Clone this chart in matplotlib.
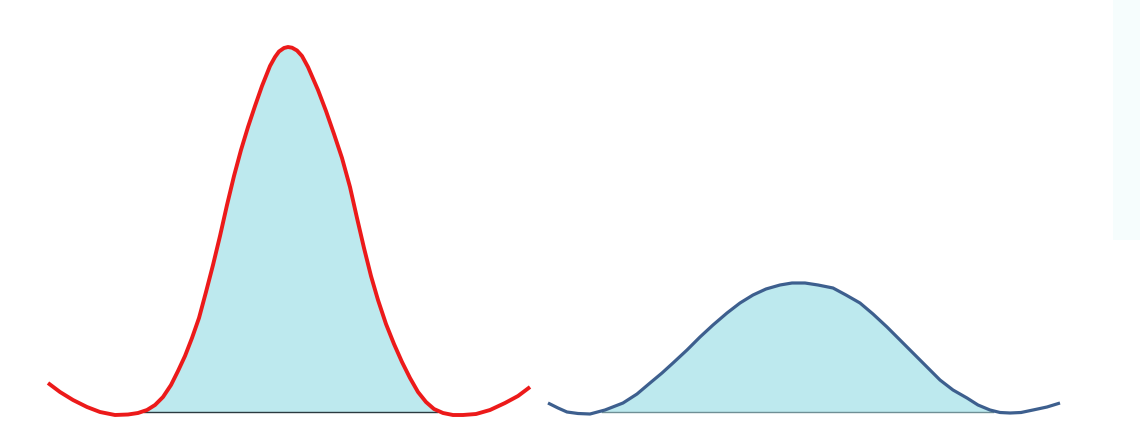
import matplotlib
matplotlib.use("Agg")
import matplotlib.pyplot as plt
import numpy as np
from matplotlib.patches import Rectangle

# Curve samples (x, height in image units, y grows downward)
red_x = [48, 60, 73, 87, 100, 115, 128, 138, 147, 155, 163, 171, 178, 185, 192, 199,
         206, 213, 220, 227, 234, 241, 248, 255, 262, 270, 275, 279, 284, 288, 292,
         297, 302, 308, 318, 326, 334, 342, 350, 357, 364, 371, 378, 386, 394, 402,
         410, 418, 426, 434, 443, 453, 463, 476, 490, 505, 518, 530]
red_y = [383, 392, 400, 407, 412, 415, 414.5, 413, 410, 405, 397, 385, 371, 356, 338,
         318, 292, 265, 236, 205, 176, 150, 127, 106, 86, 66, 57, 51.5, 48, 47, 47.7,
         50.5, 56, 67, 90, 111, 134, 158, 187, 218, 248, 276, 300, 324, 344, 362,
         378, 392, 402, 409, 413, 415, 415, 414, 410, 403, 396, 387]
red_base = 411.5

blue_x = [548, 558, 567, 578, 590, 605, 623, 637, 650, 662, 673, 687, 700, 713, 727,
          740, 753, 766, 780, 792, 805, 818, 833, 846, 860, 873, 887, 900, 913, 927,
          940, 953, 967, 978, 990, 1000, 1010, 1021, 1033, 1047, 1060]
blue_y = [403, 408, 412, 413.5, 414, 410, 403, 394, 383, 373, 363, 350, 337, 325, 313,
          303, 295, 289, 285, 283, 283, 285, 288, 295, 303, 314, 327, 340, 353, 367,
          380, 390, 398, 405, 410, 412.5, 413, 412.5, 410, 407, 403]
blue_base = 412

fill_color = "#bde9ee"
red_color = "#ec1a1a"
blue_color = "#3d5f8e"


def main_lobe(y, base):
    """Boolean mask of the contiguous run above the baseline that holds the peak."""
    y = np.asarray(y, dtype=float)
    above = y <= base
    k = int(np.argmin(y))
    lo = k
    while lo > 0 and above[lo - 1]:
        lo -= 1
    hi = k
    while hi < len(y) - 1 and above[hi + 1]:
        hi += 1
    mask = np.zeros(len(y), dtype=bool)
    mask[max(lo - 1, 0):min(hi + 2, len(y))] = True
    return mask


fig = plt.figure(figsize=(11.4, 4.32), dpi=100)
ax = fig.add_axes([0, 0, 1, 1])
ax.set_xlim(0, 1140)
ax.set_ylim(432, 0)
ax.axis("off")

# faint background panel at the right edge
ax.add_patch(Rectangle((1113, 0), 27, 240, facecolor="#f6fdfd", edgecolor="none", zorder=0))

for xs, ys, base, lc, lw, basec in [
    (red_x, red_y, red_base, red_color, 2.8, "#2b3a40"),
    (blue_x, blue_y, blue_base, blue_color, 2.3, "#6f8f95"),
]:
    x = np.array(xs, dtype=float)
    y = np.array(ys, dtype=float)
    m = main_lobe(y, base)
    xm, ym = x[m], y[m]
    ax.fill_between(xm, np.minimum(ym, base), base, where=ym <= base + 1e-9,
                    interpolate=True, color=fill_color, linewidth=0, zorder=1)
    # baseline beneath the filled lobe
    cross = xm[ym <= base]
    ax.plot([cross.min() - 3, cross.max() + 3], [base, base], color=basec, lw=1.0, zorder=2)
    ax.plot(x, y, color=lc, lw=lw, solid_capstyle="butt", solid_joinstyle="round", zorder=3)

fig.savefig("out.png", dpi=100)
